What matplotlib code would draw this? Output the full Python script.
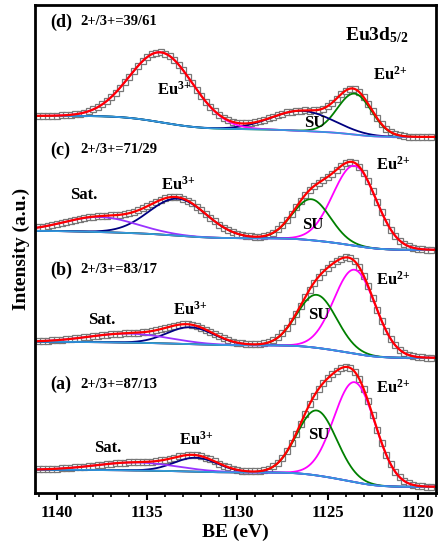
import numpy as np
import matplotlib.pyplot as plt
from matplotlib.ticker import MultipleLocator

plt.rcParams['font.family'] = ['Liberation Serif', 'DejaVu Serif']
plt.rcParams['font.weight'] = 'bold'
plt.rcParams['mathtext.fontset'] = 'custom'
plt.rcParams['mathtext.rm'] = 'Liberation Serif:bold'
plt.rcParams['mathtext.it'] = 'Liberation Serif:bold'
plt.rcParams['mathtext.bf'] = 'Liberation Serif:bold'
plt.rcParams['mathtext.default'] = 'rm'

# Panel data (vertical values in image-pixel units measured from the bottom axis)
panels = ["a", "b", "c", "d"]
ratios = ["87/13", "83/17", "71/29", "39/61"]
base_left = [23, 151, 262, 377]     # background at 1141 eV
base_right = [6, 135, 243, 356]     # background at 1119 eV

# peak components: (center eV, height, sigma eV)
eu2 = [(1123.5, 100, 1.15), (1123.5, 84, 1.15), (1123.5, 80, 1.2), (1123.5, 41, 0.95)]
su = [(1125.6, 65, 1.1), (1125.6, 53, 1.1), (1125.9, 41, 1.05), (1126.4, 20, 1.7)]
eu3 = [(1132.3, 14, 1.2), (1132.6, 17, 1.3), (1133.3, 37, 1.6), (1134.2, 70, 1.75)]
sat = [(1135.6, 8, 2.2), (1136.0, 9, 2.2), (1137.6, 15, 2.0), None]

eu2_color = ["#ff00ff", "#ff00ff", "#ff00ff", "#008000"]
su_color = ["#008000", "#008000", "#008000", "#000080"]
eu3_color = ["#000080", "#000080", "#000080", "#ff00ff"]

# label positions (eV, height)
label_y = [108, 223, 343, 471]
eu2_pos = [(1122.3, 105), (1122.3, 213), (1122.3, 328), (1122.5, 418)]
su_pos = [(1125.5, 58), (1125.5, 178), (1125.8, 268), (1125.7, 370)]
eu3_pos = [(1132.3, 53), (1132.6, 183), (1133.3, 308), (1133.5, 403)]
sat_pos = [(1137.2, 45), (1137.5, 173), (1138.5, 298), None]


def gauss(x, p):
    c, h, s = p
    return h * np.exp(-0.5 * ((x - c) / s) ** 2)


x = np.linspace(1141.2, 1119.0, 600)
xd = np.arange(1141.0, 1119.0, -0.25)

fig, ax = plt.subplots(figsize=(4.42, 5.50), dpi=100)
fig.subplots_adjust(left=0.08, right=0.986, top=0.991, bottom=0.104)

for i in range(4):
    comps = [eu2[i], su[i], eu3[i]] + ([sat[i]] if sat[i] else [])
    total = sum(gauss(x, p) for p in comps)
    # Shirley-like background from cumulative peak area
    cum = np.cumsum(total[::-1])[::-1]
    frac = cum / cum[0]
    bg = base_right[i] + (base_left[i] - base_right[i]) * frac
    env = bg + total
    env_d = np.interp(xd[::-1], x[::-1], env[::-1])[::-1]
    ax.plot(xd, env_d, ls="none", marker="s", ms=4, mfc="white", mec="#777777", mew=0.9)
    ax.plot(x, bg + gauss(x, eu2[i]), color=eu2_color[i], lw=1.3)
    ax.plot(x, bg + gauss(x, su[i]), color=su_color[i], lw=1.3)
    ax.plot(x, bg + gauss(x, eu3[i]), color=eu3_color[i], lw=1.3)
    if sat[i]:
        ax.plot(x, bg + gauss(x, sat[i]), color="#9933ff", lw=1.3)
    ax.plot(x, bg, color="#3399dd", lw=1.3)
    ax.plot(x, env, color="red", lw=1.6)

    ax.text(1140.4, label_y[i], "(%s)" % panels[i], fontsize=13, va="center")
    ax.text(1138.7, label_y[i], "2+/3+=" + ratios[i], fontsize=10.5, va="center")
    ax.text(*eu2_pos[i], r"Eu$^{2{+}}$", fontsize=12, ha="left", va="center")
    ax.text(*su_pos[i], "SU", fontsize=12, ha="center", va="center")
    ax.text(*eu3_pos[i], r"Eu$^{3{+}}$", fontsize=12, ha="center", va="center")
    if sat_pos[i]:
        ax.text(*sat_pos[i], "Sat.", fontsize=12, ha="center", va="center")

ax.text(1120.5, 458, r"Eu3d$_{5/2}$", fontsize=14, ha="right", va="center")

ax.set_xlim(1141.2, 1119.0)
ax.set_ylim(0, 488)
ax.set_yticks([])
ax.xaxis.set_major_locator(MultipleLocator(5))
ax.xaxis.set_minor_locator(MultipleLocator(1))
ax.tick_params(axis="x", which="major", length=5, width=1.5, labelsize=12)
ax.tick_params(axis="x", which="minor", length=3, width=1.2)
for s in ax.spines.values():
    s.set_linewidth(2)
ax.set_xlabel("BE (eV)", fontsize=14, fontweight="bold", labelpad=2)
ax.set_ylabel("Intensity (a.u.)", fontsize=14, fontweight="bold", labelpad=4)

plt.savefig("out.png", dpi=100)
